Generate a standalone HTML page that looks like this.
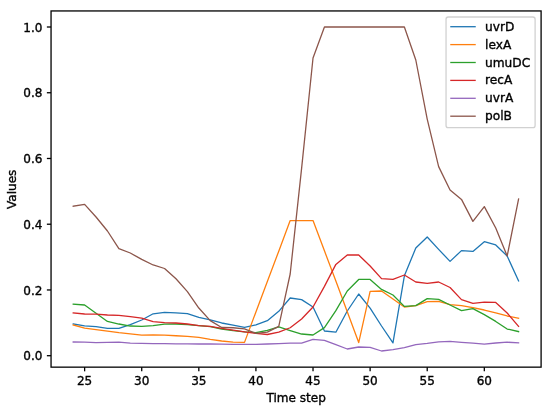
<!DOCTYPE html>
<html><head><meta charset="utf-8"><title>Time step plot</title>
<style>html,body{margin:0;padding:0;background:#fff}svg{display:block}text{font-family:"DejaVu Sans","Liberation Sans",sans-serif;font-size:12.05px;fill:#000;stroke:#000;stroke-width:0.35px}</style></head><body>
<svg width="550" height="410" viewBox="0 0 550 410">
<rect width="550" height="410" fill="#fff"/>
<clipPath id="c"><rect x="51.05" y="10.95" width="490.05" height="356.20"/></clipPath>
<g clip-path="url(#c)" fill="none" stroke-width="1.3" stroke-linejoin="round" stroke-linecap="square">
<polyline stroke="#1f77b4" points="73.20,324.01 84.62,325.79 96.04,326.58 107.46,328.29 118.88,328.29 130.30,324.60 141.72,320.00 153.14,313.79 164.56,312.41 175.98,312.97 187.40,313.63 198.82,317.31 210.24,319.87 221.66,322.99 233.08,325.13 244.50,327.27 255.92,324.80 267.34,320.69 278.76,311.33 290.18,298.01 301.60,299.59 313.02,307.05 324.44,331.01 335.86,332.20 347.28,311.00 358.70,294.00 370.12,308.04 381.54,325.99 392.96,342.88 404.38,275.83 415.80,248.02 427.22,237.04 438.64,249.40 450.06,261.36 461.48,250.61 472.90,251.40 484.32,241.64 495.74,244.99 507.16,256.01 518.58,280.99"/>
<polyline stroke="#ff7f0e" points="73.20,325.00 84.62,328.09 96.04,329.57 107.46,331.21 118.88,332.69 130.30,333.84 141.72,335.09 153.14,334.93 164.56,335.09 175.98,335.75 187.40,336.41 198.82,337.39 210.24,339.40 221.66,341.01 233.08,342.09 244.50,342.39 255.92,311.98 267.34,281.41 278.76,251.17 290.18,220.60 301.60,220.60 313.02,220.60 324.44,250.84 335.86,281.09 347.28,311.82 358.70,342.55 370.12,291.41 381.54,291.01 392.96,299.00 404.38,307.05 415.80,305.61 427.22,301.60 438.64,301.46 450.06,304.59 461.48,305.61 472.90,307.71 484.32,310.01 495.74,312.97 507.16,315.99 518.58,318.23"/>
<polyline stroke="#2ca02c" points="73.20,304.19 84.62,305.01 96.04,313.20 107.46,321.42 118.88,324.01 130.30,326.02 141.72,326.45 153.14,325.59 164.56,324.21 175.98,324.01 187.40,324.60 198.82,325.59 210.24,326.61 221.66,329.01 233.08,330.55 244.50,331.80 255.92,332.69 267.34,330.29 278.76,326.97 290.18,330.59 301.60,334.01 313.02,334.99 324.44,327.60 335.86,310.67 347.28,291.01 358.70,279.44 370.12,279.44 381.54,289.40 392.96,294.99 404.38,306.39 415.80,305.61 427.22,298.60 438.64,299.39 450.06,305.01 461.48,310.67 472.90,308.60 484.32,314.61 495.74,321.42 507.16,329.01 518.58,331.61"/>
<polyline stroke="#d62728" points="73.20,312.97 84.62,313.99 96.04,314.12 107.46,315.01 118.88,315.40 130.30,316.58 141.72,318.23 153.14,321.61 164.56,322.60 175.98,322.99 187.40,324.01 198.82,325.59 210.24,326.45 221.66,328.42 233.08,330.16 244.50,331.80 255.92,333.35 267.34,334.50 278.76,332.20 290.18,327.76 301.60,319.05 313.02,307.05 324.44,286.34 335.86,264.39 347.28,254.99 358.70,254.99 370.12,265.96 381.54,278.59 392.96,279.44 404.38,275.00 415.80,282.01 427.22,283.39 438.64,282.01 450.06,287.49 461.48,299.59 472.90,303.44 484.32,302.19 495.74,302.45 507.16,312.97 518.58,326.45"/>
<polyline stroke="#9467bd" points="73.20,341.99 84.62,342.22 96.04,342.55 107.46,342.39 118.88,342.06 130.30,343.11 141.72,343.37 153.14,343.54 164.56,343.70 175.98,343.87 187.40,343.93 198.82,344.00 210.24,344.00 221.66,344.20 233.08,344.36 244.50,344.36 255.92,344.36 267.34,344.00 278.76,343.54 290.18,343.21 301.60,343.21 313.02,339.40 324.44,340.42 335.86,344.59 347.28,348.99 358.70,346.99 370.12,347.38 381.54,351.00 392.96,349.59 404.38,347.61 415.80,344.59 427.22,343.41 438.64,341.80 450.06,341.40 461.48,342.39 472.90,343.21 484.32,344.20 495.74,343.01 507.16,342.22 518.58,342.81"/>
<polyline stroke="#8c564b" points="73.20,206.21 84.62,204.40 96.04,216.99 107.46,230.99 118.88,248.61 130.30,253.01 141.72,259.39 153.14,264.98 164.56,268.50 175.98,278.78 187.40,291.60 198.82,308.04 210.24,320.66 221.66,327.46 233.08,327.76 244.50,328.91 255.92,333.35 267.34,332.07 278.76,326.45 290.18,273.99 301.60,168.34 313.02,58.00 324.44,27.00 335.86,27.00 347.28,27.00 358.70,27.00 370.12,27.00 381.54,27.00 392.96,27.00 404.38,27.00 415.80,60.00 427.22,119.04 438.64,166.60 450.06,190.04 461.48,199.40 472.90,221.39 484.32,206.60 495.74,228.00 507.16,256.01 518.58,199.01"/>
</g>
<rect x="51.05" y="10.95" width="490.05" height="356.20" fill="none" stroke="#000" stroke-width="1.3"/>
<g stroke="#000" stroke-width="1.3">
<line x1="84.62" y1="367.15" x2="84.62" y2="371.33"/>
<line x1="141.72" y1="367.15" x2="141.72" y2="371.33"/>
<line x1="198.82" y1="367.15" x2="198.82" y2="371.33"/>
<line x1="255.92" y1="367.15" x2="255.92" y2="371.33"/>
<line x1="313.02" y1="367.15" x2="313.02" y2="371.33"/>
<line x1="370.12" y1="367.15" x2="370.12" y2="371.33"/>
<line x1="427.22" y1="367.15" x2="427.22" y2="371.33"/>
<line x1="484.32" y1="367.15" x2="484.32" y2="371.33"/>
<line x1="46.87" y1="355.70" x2="51.05" y2="355.70"/>
<line x1="46.87" y1="289.96" x2="51.05" y2="289.96"/>
<line x1="46.87" y1="224.22" x2="51.05" y2="224.22"/>
<line x1="46.87" y1="158.48" x2="51.05" y2="158.48"/>
<line x1="46.87" y1="92.74" x2="51.05" y2="92.74"/>
<line x1="46.87" y1="27.00" x2="51.05" y2="27.00"/>
</g>
<text x="84.62" y="385.30" text-anchor="middle">25</text>
<text x="141.72" y="385.30" text-anchor="middle">30</text>
<text x="198.82" y="385.30" text-anchor="middle">35</text>
<text x="255.92" y="385.30" text-anchor="middle">40</text>
<text x="313.02" y="385.30" text-anchor="middle">45</text>
<text x="370.12" y="385.30" text-anchor="middle">50</text>
<text x="427.22" y="385.30" text-anchor="middle">55</text>
<text x="484.32" y="385.30" text-anchor="middle">60</text>
<text x="42.40" y="360.25" text-anchor="end">0.0</text>
<text x="42.40" y="294.51" text-anchor="end">0.2</text>
<text x="42.40" y="228.77" text-anchor="end">0.4</text>
<text x="42.40" y="163.03" text-anchor="end">0.6</text>
<text x="42.40" y="97.29" text-anchor="end">0.8</text>
<text x="42.40" y="31.55" text-anchor="end">1.0</text>
<text x="296.22" y="401.80" text-anchor="middle">Time step</text>
<text transform="translate(16.35,189.35) rotate(-90)" text-anchor="middle">Values</text>
<rect x="446.05" y="17" width="89.05" height="110.7" rx="2.2" ry="2.2" fill="#fff" fill-opacity="0.8" stroke="#ccc" stroke-opacity="0.9" stroke-width="1.3"/>
<line x1="450.9" y1="26.70" x2="475.1" y2="26.70" stroke="#1f77b4" stroke-width="1.3" stroke-linecap="square"/>
<text x="485.0" y="30.70" style="font-size:12.2px">uvrD</text>
<line x1="450.9" y1="44.60" x2="475.1" y2="44.60" stroke="#ff7f0e" stroke-width="1.3" stroke-linecap="square"/>
<text x="485.0" y="48.60" style="font-size:12.2px">lexA</text>
<line x1="450.9" y1="62.50" x2="475.1" y2="62.50" stroke="#2ca02c" stroke-width="1.3" stroke-linecap="square"/>
<text x="485.0" y="66.50" style="font-size:12.2px">umuDC</text>
<line x1="450.9" y1="80.40" x2="475.1" y2="80.40" stroke="#d62728" stroke-width="1.3" stroke-linecap="square"/>
<text x="485.0" y="84.40" style="font-size:12.2px">recA</text>
<line x1="450.9" y1="98.30" x2="475.1" y2="98.30" stroke="#9467bd" stroke-width="1.3" stroke-linecap="square"/>
<text x="485.0" y="102.30" style="font-size:12.2px">uvrA</text>
<line x1="450.9" y1="116.20" x2="475.1" y2="116.20" stroke="#8c564b" stroke-width="1.3" stroke-linecap="square"/>
<text x="485.0" y="120.20" style="font-size:12.2px">polB</text>
</svg></body></html>
